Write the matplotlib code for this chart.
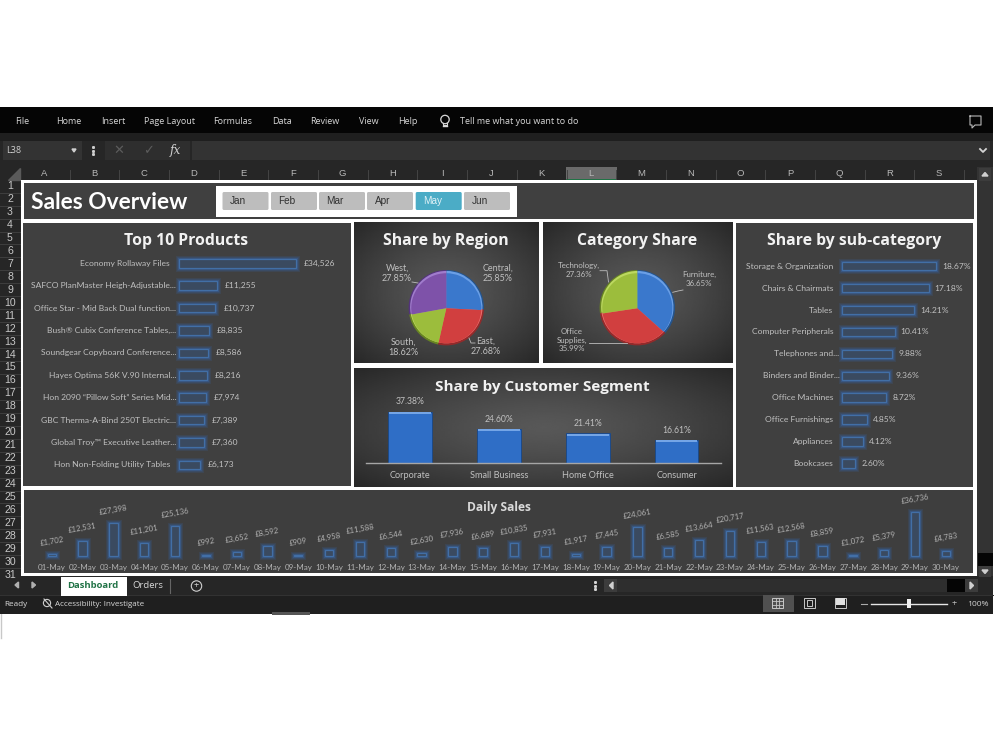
import numpy as np
import matplotlib
matplotlib.use("Agg")
import matplotlib.pyplot as plt
from matplotlib.patches import Rectangle, FancyBboxPatch, Circle

products = ["Economy Rollaway Files", "SAFCO PlanMaster Heigh-Adjustable...", "Office Star - Mid Back Dual function...",
            "Bush® Cubix Conference Tables,...", "Soundgear Copyboard Conference...", "Hayes Optima 56K V.90 Internal...",
            "Hon 2090 “Pillow Soft” Series Mid...", "GBC Therma-A-Bind 250T Electric...", "Global Troy™ Executive Leather...",
            "Hon Non-Folding Utility Tables"]
product_sales = [34526, 11255, 10737, 8835, 8586, 8216, 7974, 7389, 7360, 6173]
regions = ["Central", "East", "South", "West"]
region_share = [25.85, 27.68, 18.62, 27.85]
categories = ["Furniture", "Office\nSupplies", "Technology"]
category_share = [36.65, 35.99, 27.36]
segments = ["Corporate", "Small Business", "Home Office", "Consumer"]
segment_share = [37.38, 24.60, 21.41, 16.61]
subcats = ["Storage & Organization", "Chairs & Chairmats", "Tables", "Computer Peripherals", "Telephones and...",
           "Binders and Binder...", "Office Machines", "Office Furnishings", "Appliances", "Bookcases"]
subcat_share = [18.67, 17.18, 14.21, 10.41, 9.88, 9.36, 8.72, 4.85, 4.12, 2.60]
days = [f"{d:02d}-May" for d in range(1, 31)]
daily_sales = [1702, 12531, 27398, 11201, 25136, 992, 3652, 8592, 909, 4958, 11588, 6544, 2630, 7936, 6689,
               10835, 7931, 1917, 7445, 24061, 6585, 13664, 20717, 11563, 12568, 8859, 1072, 5379, 36736, 4783]
months = ["Jan", "Feb", "Mar", "Apr", "May", "Jun"]
ribbon_tabs = ["File", "Home", "Insert", "Page Layout", "Formulas", "Data", "Review", "View", "Help"]
col_letters = list("ABCDEFGHIJKLMNOPQRS")

W, H = 1000, 750
FONT = "Lato"
UI = "Open Sans"
TXT = "#c0c0c0"
DIM = "#b2b2b2"
fig = plt.figure(figsize=(10, 7.5), dpi=100, facecolor="white")


def px(size):
    return size * 0.72


def px_axes(l, t, r, b, z=2):
    ax = fig.add_axes([l / W, 1 - b / H, (r - l) / W, (b - t) / H], zorder=z)
    ax.patch.set_alpha(0)
    for s in ax.spines.values():
        s.set_visible(False)
    ax.set_xticks([])
    ax.set_yticks([])
    return ax


bg = px_axes(0, 0, W, H, 0)
bg.set_xlim(0, W)
bg.set_ylim(H, 0)
top = px_axes(0, 0, W, H, 5)
top.set_xlim(0, W)
top.set_ylim(H, 0)


def rect(x0, y0, x1, y1, c, ax=bg, z=1, **kw):
    ax.add_patch(Rectangle((x0, y0), x1 - x0, y1 - y0, fc=c, ec="none", zorder=z, **kw))


def label(x, y, s, size=9, c=TXT, ha="center", ax=bg, family=UI, z=6, **kw):
    ax.text(x, y, s, fontsize=px(size), color=c, ha=ha, va="center", family=family, zorder=z, **kw)


def gradient_panel(x0, y0, x1, y1):
    yy, xx = np.mgrid[-1:1:120j, -1:1:160j]
    r = np.clip(np.sqrt(xx ** 2 + yy ** 2) / np.sqrt(2), 0, 1)
    bg.imshow(0.345 - 0.19 * r ** 1.3, cmap="gray", vmin=0, vmax=1, extent=(x0, x1, y1, y0),
              aspect="auto", zorder=3, interpolation="bilinear")


# ---- window chrome
rect(0, 107, 993, 614, "#262626")
rect(0, 107, 993, 133, "#050505")
rect(0, 133, 993, 141, "#1f1f1f")
rect(3, 141, 82, 160, "#333333")
rect(105, 141, 190, 160, "#2e2e2e")
rect(192, 141, 990, 160, "#333333")
label(6, 150.5, "L38", 9, "#d0d0d0", ha="left")
bg.fill([72, 76, 74], [149, 149, 152], color="#cfcfcf", zorder=4)
for yy in (147, 150.5, 154):
    bg.plot([93], [yy], "s", ms=1.1, color="#d0d0d0", zorder=4)
label(119, 150.5, "✕", 13, "#5c5c5c", family="DejaVu Sans")
label(148, 150.5, "✓", 13, "#5c5c5c", family="DejaVu Sans")
label(175, 150.5, "fx", 12, "#d0d0d0", family="DejaVu Serif", style="italic")
bg.plot([980, 983, 986], [149, 152, 149], color="#d5d5d5", lw=1.3, zorder=4)

tab_x = [22, 68.7, 113, 169, 233, 282, 325, 369, 408]
for x, s in zip(tab_x, ribbon_tabs):
    label(x, 122, s, 9, "#d8d8d8")
bg.add_patch(Circle((445, 119.5), 4.2, fc="none", ec="#d8d8d8", lw=0.9, zorder=4))
bg.plot([443, 447], [126, 126], color="#d8d8d8", lw=1, zorder=4)
bg.plot([443, 443, 447, 447], [123, 125, 125, 123], color="#d8d8d8", lw=0.8, zorder=4)
label(460, 122, "Tell me what you want to do", 9, "#d8d8d8", ha="left")
bg.plot([970, 981, 981, 975, 972, 972, 970, 970], [116, 116, 125, 125, 128, 125, 125, 116],
        color="#b8b8b8", lw=0.8, zorder=4)

# column / row headers
rect(0, 160, 993, 181, "#262626")
rect(566, 167, 617, 180, "#6a6a6a", z=2)
rect(566, 179, 617, 180.5, "#217346", z=2)
bg.fill([8, 20, 20], [180, 180, 168], color="#5a5a5a", zorder=2)
for i, s in enumerate(col_letters):
    label(44.4 + i * 49.7, 173.5, s, 9.5, "#b8b8b8", family="Liberation Sans", z=3)
    bg.plot([69.5 + i * 49.7] * 2, [170, 180], color="#444444", lw=0.7, zorder=2)
for i in range(1, 32):
    yy = 225 + (i - 4) * 12.95
    label(10, yy, str(i), 10.5, "#c8c8c8", family="Liberation Sans", z=3)
    bg.plot([0, 20], [yy + 6.5] * 2, color="#3e3e3e", lw=0.7, zorder=2)

# right scrollbar
rect(977, 167, 993, 576, "#333333", z=2)
rect(979, 168, 991, 181, "#3c3c3c", z=2)
bg.fill([982, 985, 988], [176, 172.5, 176], color="#d0d0d0", zorder=3)
rect(978, 553, 993, 566, "#050505", z=3)
rect(979, 566, 991, 577, "#3c3c3c", z=3)
bg.fill([982, 985, 988], [570, 573.5, 570], color="#d0d0d0", zorder=4)

# dashboard sheet
rect(21, 180, 976.5, 576, "white", z=2)
rect(24, 183.3, 973.7, 219.3, "#404040", z=3)
PANEL = "#404040"
rect(23.3, 222.7, 350.7, 486, PANEL, z=3)
rect(736, 222.7, 973.3, 486.7, PANEL, z=3)
rect(24, 489.7, 973.3, 573.3, "#3e3e3e", z=3)
gradient_panel(354, 222.7, 538.3, 363.3)
gradient_panel(542.7, 222.7, 732.7, 363.3)
gradient_panel(354, 367.7, 732.7, 486.7)
bg.set_xlim(0, W)
bg.set_ylim(H, 0)

label(31, 202.5, "Sales Overview", 22.8, "white", ha="left", family=FONT, weight="bold", z=6)

# month slicer
rect(216, 186, 517, 216.7, "white", z=4)
btn_x = [222.5, 271, 319, 367, 415.7, 464]
text_x = [238, 287, 335, 383, 432.5, 480]
for x, t, s in zip(btn_x, text_x, months):
    on = s == "May"
    bg.add_patch(FancyBboxPatch((x + 1, 193), 44, 16, boxstyle="round,pad=1,rounding_size=1.5",
                                fc="#4bacc6" if on else "#bdbdbd", ec="none", zorder=5))
    label(t, 201.5, s, 10, "#dff1f6" if on else "#303030", family="Liberation Sans")

# sheet tabs + status
rect(0, 576, 993, 595, "#262626", z=2)
rect(0, 595, 993, 614, "#1f1f1f", z=2)
bg.plot([0, 993], [594.5, 594.5], color="#333333", lw=0.7, zorder=3)
bg.fill([18.5, 15, 18.5], [582, 585, 588], color="#b0b0b0", zorder=3)
bg.fill([32, 35.5, 32], [582, 585, 588], color="#b0b0b0", zorder=3)
rect(60.5, 577, 126.5, 596, "white", z=3)
label(93, 585.5, "Dashboard", 9.5, "#217346", weight="bold", z=6)
label(148, 585.5, "Orders", 9.5, "#d8d8d8")
bg.plot([170, 170], [579, 593], color="#666666", lw=0.8, zorder=3)
bg.add_patch(Circle((196.5, 586), 5.2, fc="none", ec="#d0d0d0", lw=0.8, zorder=4))
label(196.5, 585.7, "+", 9, "#d0d0d0")
for yy in (582, 585.5, 589):
    bg.plot([594.5], [yy], "s", ms=1.1, color="#d8d8d8", zorder=4)
rect(604, 579, 617, 592, "#3c3c3c", z=3)
bg.fill([613, 609.5, 613], [582, 585.5, 589], color="#d0d0d0", zorder=4)
rect(617, 579, 947, 592, "#2e2e2e", z=3)
rect(947, 579, 965, 592, "#050505", z=3)
rect(965, 579, 978, 592, "#3c3c3c", z=3)
bg.fill([970, 973.5, 970], [582, 585.5, 589], color="#d0d0d0", zorder=4)
label(4, 604, "Ready", 8.2, "#d8d8d8", ha="left")
bg.add_patch(Circle((47, 603), 3.6, fc="none", ec="#cfcfcf", lw=0.8, zorder=4))
bg.plot([44, 52], [599, 608], color="#cfcfcf", lw=0.8, zorder=4)
label(55, 604, "Accessibility: Investigate", 8, "#d8d8d8", ha="left")
rect(763, 595, 794, 612, "#505050", z=3)
for x0 in (772, 804, 835):
    bg.add_patch(Rectangle((x0, 598), 11, 10, fc="none", ec="#c8c8c8", lw=0.7, zorder=4))
bg.plot([775.5, 775.5], [598, 608], color="#c8c8c8", lw=0.6, zorder=4)
bg.plot([779, 779], [598, 608], color="#c8c8c8", lw=0.6, zorder=4)
bg.plot([772, 783], [601.3, 601.3], color="#c8c8c8", lw=0.6, zorder=4)
bg.plot([772, 783], [604.7, 604.7], color="#c8c8c8", lw=0.6, zorder=4)
bg.add_patch(Rectangle((807, 600), 5, 6, fc="none", ec="#c8c8c8", lw=0.7, zorder=4))
rect(836, 598, 845, 605, "#e0e0e0", z=4)
bg.plot([861, 867], [604, 604], color="#aaaaaa", lw=0.8, zorder=4)
bg.plot([871, 947], [603.5, 603.5], color="#e6e6e6", lw=1, zorder=4)
rect(907, 599, 911, 608, "#f0f0f0", z=5)
label(954, 603.5, "+", 9, "#bbbbbb")
label(978, 604, "100%", 8.5, "#d0d0d0")
rect(272, 612, 310, 614.5, "#555555", z=4)
bg.plot([0.5, 0.5], [614, 638], color="#c8c8c8", lw=1, zorder=1)


def glow_bars(ax, pos, vals, thick, horizontal=True):
    fn = ax.barh if horizontal else ax.bar
    for lw, a in ((5.0, 0.14), (3.4, 0.18), (2.2, 0.25)):
        fn(pos, vals, thick, color="none", edgecolor=(0.2, 0.44, 0.78, a), linewidth=lw, clip_on=False)
    fn(pos, vals, thick, color="#3a4a60", edgecolor="#426fa6", linewidth=0.9, clip_on=False)


# ---- Top 10 products
ax = px_axes(179, 252.1, 345, 476.1)
glow_bars(ax, np.arange(10), product_sales, 0.38)
ax.set_xlim(0, 34526 * 166 / 116.5)
ax.set_ylim(9.5, -0.5)
for i, (s, v) in enumerate(zip(products, product_sales)):
    pad = 2 if s.endswith("...") else 6.5
    ax.annotate(s, (0, i), xytext=(-pad, 0), textcoords="offset points", ha="right", va="center",
                fontsize=px(8.5), color=TXT, family=FONT, annotation_clip=False)
    ax.annotate(f"£{v:,}", (v, i), xytext=(6, 0), textcoords="offset points", ha="left", va="center",
                fontsize=px(8.5), color=TXT, family=FONT, annotation_clip=False)
label(186, 241, "Top 10 Products", 15.7, "#f2f2f2", ax=top, family=UI, weight="bold")

# ---- Sub-category
ax = px_axes(842.3, 255.3, 972, 474.3)
glow_bars(ax, np.arange(10), subcat_share, 0.38)
ax.set_xlim(0, 18.67 * 129.7 / 93.7)
ax.set_ylim(9.5, -0.5)
for i, (s, v) in enumerate(zip(subcats, subcat_share)):
    pad = 2 if s.endswith("...") else 6.5
    ax.annotate(s, (0, i), xytext=(-pad, 0), textcoords="offset points", ha="right", va="center",
                fontsize=px(8.5), color=TXT, family=FONT, annotation_clip=False)
    ax.annotate(f"{v:.2f}%", (v, i), xytext=(4.5, 0), textcoords="offset points", ha="left", va="center",
                fontsize=px(8.5), color=TXT, family=FONT, annotation_clip=False)
label(854, 241, "Share by sub-category", 15.7, "#f2f2f2", ax=top, family=UI, weight="bold")


# ---- Pies
def draw_pie(cx, cy, r, values, colors):
    ax = px_axes(cx - r, cy - r, cx + r, cy + r, 3)
    dark = ["#24558f", "#942a2a", "#688522", "#54337d"][:len(values)]
    light = ["#6a9fe6", "#ec7070", "#bcd860", "#a07ccc"][:len(values)]
    ax.pie(values, colors=dark, startangle=90, counterclock=False, radius=1.0,
           center=(0, 0), wedgeprops=dict(edgecolor="none"))
    ax.pie(values, colors=light, startangle=90, counterclock=False, radius=0.96,
           center=(0, 0.015), wedgeprops=dict(edgecolor="none"))
    ax.pie(values, colors=colors, startangle=90, counterclock=False, radius=0.93,
           center=(0, -0.015), wedgeprops=dict(edgecolor="none"))
    ax.set_xlim(-1, 1)
    ax.set_ylim(-1, 1)
    ax.set_aspect("auto")


pie4 = ["#3a78cc", "#d13f3f", "#9cbd3c", "#7e52a9"]
draw_pie(446.3, 307.7, 37.7, region_share, pie4)
draw_pie(637.3, 307.7, 37.7, category_share, pie4[:3])
label(446, 241, "Share by Region", 15.7, "#f2f2f2", ax=top, family=UI, weight="bold")
label(636.7, 241, "Category Share", 15.7, "#f2f2f2", ax=top, family=UI, weight="bold")

region_pos = [(498, 273.5), (485.5, 346), (403.7, 347.5), (397, 273.5)]
for (x, y), n, v in zip(region_pos, regions, region_share):
    top.text(x, y, f"{n},\n{v:.2f}%", fontsize=px(9), color=TXT, family=FONT, ha="center", va="center",
             linespacing=1.2)
top.plot([412, 418], [282, 283], color="#bdbdbd", lw=0.6)
top.plot([469, 471, 475], [338, 343, 343], color="#bdbdbd", lw=0.6)

cat_pos = [(699, 279), (572, 340), (578.7, 270)]
for (x, y), n, v in zip(cat_pos, categories, category_share):
    top.text(x, y, f"{n},\n{v:.2f}%", fontsize=px(7.9), color=TXT, family=FONT, ha="center", va="center",
             linespacing=1.25)
top.plot([600, 607, 608.5], [270.7, 270.7, 282], color="#bdbdbd", lw=0.6)
top.plot([672.7, 678, 683], [292.3, 291, 290], color="#bdbdbd", lw=0.6)
top.plot([589, 626.7], [343.3, 343.3], color="#bdbdbd", lw=0.6)

# ---- Segment columns
ax = px_axes(365.7, 395, 721, 462.7, 3)
seg_x = np.arange(4)
ax.bar(seg_x, segment_share, 0.49, color="#2f6ec6", edgecolor="#1d4a88", linewidth=0.7)
ax.bar(seg_x, [1.4] * 4, 0.47, bottom=np.array(segment_share) - 1.6, color="#74a5e6")
ax.set_xlim(-0.5, 3.5)
ax.set_ylim(0, 67.7 / (51 / 37.38))
ax.spines["bottom"].set_visible(True)
ax.spines["bottom"].set_color("#a6a6a6")
ax.spines["bottom"].set_linewidth(1)
ax.set_xticks(seg_x, segments, fontsize=px(9.2), color=TXT, family=FONT)
ax.tick_params(axis="x", length=0, pad=6)
for i, v in enumerate(segment_share):
    ax.annotate(f"{v:.2f}%", (i, v), xytext=(0, 7), textcoords="offset points", ha="center", va="center",
                fontsize=px(8.6), color=TXT, family=FONT, annotation_clip=False)
label(542.7, 386.5, "Share by Customer Segment", 15.3, "#f2f2f2", ax=top, family=UI, weight="bold")

# ---- Daily sales
ax = px_axes(36.3, 500, 961.1, 556.3, 3)
xs = np.arange(30)
glow_bars(ax, xs, daily_sales, 0.27, horizontal=False)
ax.set_xlim(-0.5, 29.5)
ax.set_ylim(0, 56.3 / (44 / 36736))
ax.set_xticks(xs, days, fontsize=px(8), color=DIM, family=FONT)
ax.tick_params(axis="x", length=0, pad=5.5)
for i, v in enumerate(daily_sales):
    ax.annotate(f"£{v:,}", (i, v), xytext=(0, 9.5), textcoords="offset points", ha="center", va="center",
                rotation=10, fontsize=px(7.8), color=DIM, family=FONT, annotation_clip=False)
label(498.7, 507, "Daily Sales", 12, "#d9d9d9", ax=top, family=UI, weight="bold")

fig.savefig("out.png", dpi=100, facecolor="white")
